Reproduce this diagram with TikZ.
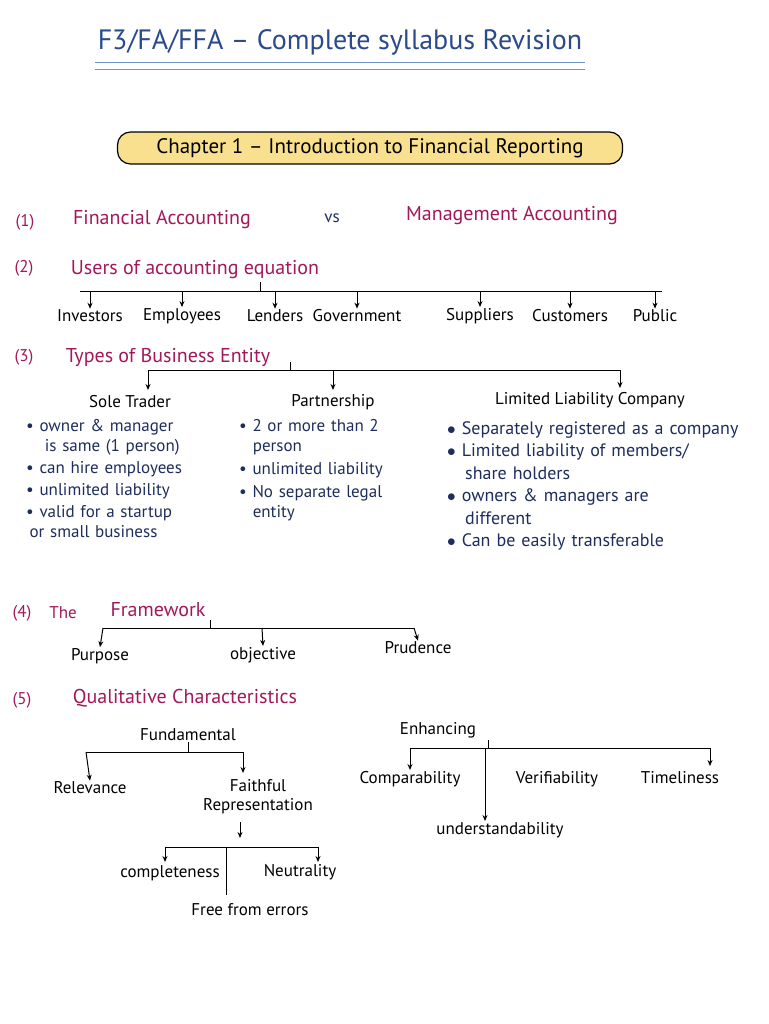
\documentclass[tikz,border=0pt]{standalone}
\usepackage{fontspec}
\setmainfont{PT Sans}
\usetikzlibrary{arrows.meta}
\definecolor{ink}{HTML}{1E2D5C}
\definecolor{pinkh}{HTML}{A3185A}
\definecolor{titleb}{HTML}{2B4A8C}
\definecolor{ulb}{HTML}{6E93C8}
\definecolor{boxy}{HTML}{F8E08E}
\begin{document}
\begin{tikzpicture}[x=1pt,y=-1pt,
 txt/.style={font=\fontsize{17}{19}\selectfont, text=black, inner sep=1pt},
 blu/.style={font=\fontsize{17}{20}\selectfont, text=ink, inner sep=1pt, align=left},
 pk/.style={font=\fontsize{20}{22}\selectfont, text=pinkh, inner sep=1pt},
 ln/.style={draw=black, line width=1pt},
 ar/.style={draw=black, line width=1pt, -{Stealth[length=6pt,width=5pt]}}]
\useasboundingbox[fill=white] (0,0) rectangle (768,1024);
% title
\node[font=\fontsize{28}{32}\selectfont, text=titleb] (title) at (340,42) {F3/FA/FFA -- Complete syllabus Revision};
\draw[ulb, line width=1pt] (95,63) -- (585,63);
\draw[ulb, line width=1pt] (95,70) -- (585,70);
\node[draw=black, line width=1.2pt, fill=boxy, rounded corners=13pt, minimum width=505pt, minimum height=32pt, font=\fontsize{21}{23}\selectfont] (chap) at (370,148) {Chapter 1 -- Introduction to Financial Reporting};
% (1)
\node[txt, text=pinkh] (n1) at (25,222) {(1)};
\node[pk] (fa) at (162,220) {Financial Accounting};
\node[blu] (vs) at (332,218) {vs};
\node[pk] (ma) at (512,216) {Management Accounting};
% (2)
\node[txt, text=pinkh] (n2) at (24,268) {(2)};
\node[pk] (users) at (195,270) {Users of accounting equation};
\coordinate (u0) at (260,282);
\draw[ln] (80,291) -- (662,291);
\draw[ln] (u0) -- (260,291);
\foreach \x/\t [count=\i] in {90/Investors,182/Employees,275/Lenders,357/Government,480/Suppliers,570/Customers,655/Public}{
 \node[txt] (us\i) at (\x,316) {\t};
 \draw[ar] (\x,291) -- (us\i.north);
}
% (3)
\node[txt, text=pinkh] (n3) at (24,357) {(3)};
\node[pk] (types) at (168,357) {Types of Business Entity};
\draw[ln] (148,370) -- (620,370);
\draw[ln] (290,362) -- (290,370);
\node[txt] (st) at (130,402) {Sole Trader};
\node[txt] (pt) at (333,402) {Partnership};
\node[txt] (llc) at (590,400) {Limited Liability Company};
\draw[ar] (148,370) -- (148,390);
\draw[ar] (333,370) -- (333,390);
\draw[ar] (620,370) -- (620,388);
\node[blu, anchor=north west, text width=200pt] (stb) at (25,418) {%
\textbullet\ owner \& manager\\ \hspace{1.1em}is same (1 person)\\[2pt]
\textbullet\ can hire employees\\[2pt]
\textbullet\ unlimited liability\\[2pt]
\textbullet\ valid for a startup\\ \hspace{0.2em}or small business};
\node[blu, anchor=north west, text width=200pt] (ptb) at (238,418) {%
\textbullet\ 2 or more than 2\\ \hspace{0.8em}person\\[3pt]
\textbullet\ unlimited liability\\[3pt]
\textbullet\ No separate legal\\ \hspace{0.8em}entity};
\node[blu, anchor=north west, text width=320pt, font=\fontsize{18}{22.5}\selectfont] (llcb) at (446,420) {%
$\bullet$\ Separately registered as a company\\
$\bullet$\ Limited liability of members/\\ \hspace{1em}share holders\\
$\bullet$\ owners \& managers are\\ \hspace{1em}different\\
$\bullet$\ Can be easily transferable};
% (4)
\node[txt, text=pinkh] (n4) at (22,613) {(4)};
\node[txt, text=pinkh] (the) at (63,613) {The};
\node[pk] (fw) at (158,610) {Framework};
\draw[ln] (103,628) -- (414,628);
\draw[ln] (210,620) -- (210,628);
\node[txt] (pu) at (100,656) {Purpose};
\node[txt] (ob) at (263,655) {objective};
\node[txt] (pr) at (418,648) {Prudence};
\draw[ar] (103,628) -- (pu.north);
\draw[ar] (262,628) -- (ob.north);
\draw[ar] (414,628) -- (pr.north);
% (5)
\node[txt, text=pinkh] (n5) at (22,700) {(5)};
\node[pk] (qc) at (185,698) {Qualitative Characteristics};
\node[txt] (fu) at (188,735) {Fundamental};
\draw[ln] (fu.south) -- (188,752);
\draw[ln] (86,752) -- (243,752);
\node[txt] (rel) at (90,788) {Relevance};
\node[txt, align=center] (faith) at (258,797) {Faithful\\Representation};
\draw[ar] (86,752) -- (rel.north);
\draw[ar] (243,752) -- (243,773);
\coordinate (fr) at (240,822);
\draw[ar] (fr) -- (240,838);
\draw[ln] (165,847) -- (318,847);
\node[txt] (comp) at (170,873) {completeness};
\node[txt] (neut) at (300,872) {Neutrality};
\node[txt] (free) at (250,910) {Free from errors};
\draw[ar] (165,847) -- (165,862);
\draw[ar] (318,847) -- (318,862);
\draw[ln] (226,847) -- (226,895);
\node[txt] (enh) at (438,730) {Enhancing};
\draw[ln] (488,740) -- (488,748);
\draw[ln] (410,748) -- (710,748);
\node[txt] (cmp) at (410,779) {Comparability};
\node[txt] (ver) at (557,779) {Verifiability};
\node[txt] (tim) at (680,778) {Timeliness};
\node[txt] (und) at (500,830) {understandability};
\draw[ar] (410,748) -- (cmp.north);
\draw[ar] (710,748) -- (710,766);
\draw[ar] (485,748) -- (und.north -| 485,0);
\end{tikzpicture}
\end{document}
